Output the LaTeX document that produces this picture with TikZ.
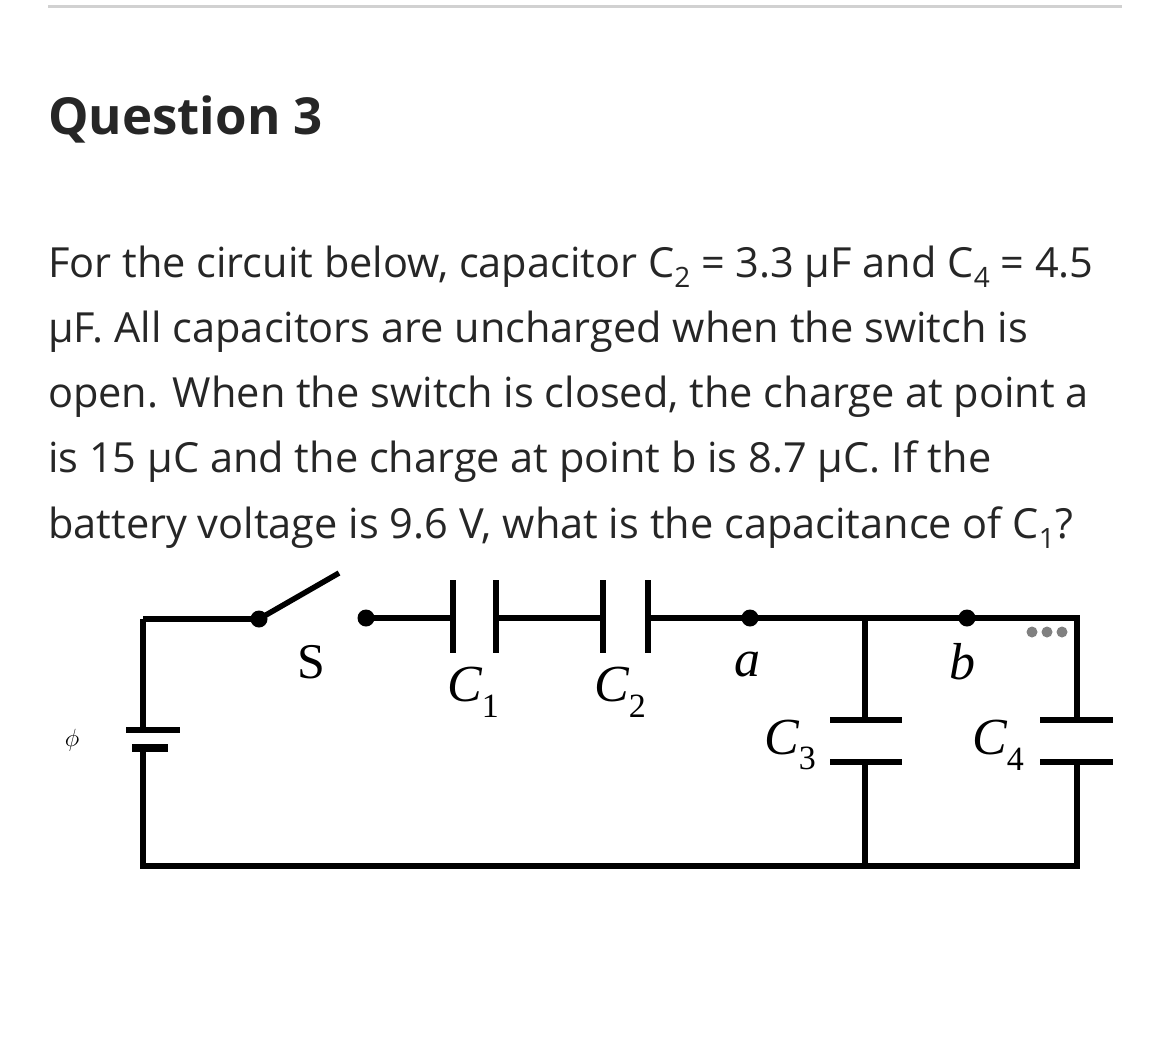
\documentclass[tikz,border=0pt]{standalone}
\usepackage{fontspec}
\setmainfont{Open Sans}
\newfontfamily\ser{Liberation Serif}
\newcommand{\sbs}[1]{\raisebox{-0.25em}{\fontsize{28}{28}\selectfont #1}}
\newcommand{\csub}[1]{\raisebox{-0.3em}{\upshape\fontsize{34}{34}\selectfont #1}}
\begin{document}
\begin{tikzpicture}[x=1pt,y=-1pt,
  txt/.style={anchor=base west,inner sep=0pt,font=\fontsize{41.5}{41.5}\selectfont,text=black!85},
  w/.style={line width=5.5pt},
  pl/.style={line width=5.5pt},
  dot/.style={circle,fill=black,inner sep=0pt,minimum size=17pt},
  lab/.style={font=\ser\itshape\fontsize{52}{52}\selectfont,inner sep=0pt}]
\useasboundingbox (0,0) rectangle (1170,1037);
\draw[line width=3pt,black!18] (48,6) -- (1122,6);
\node[txt,font=\fontsize{51}{51}\selectfont\bfseries] (q) at (48,134) {Question 3};
\node[txt] (l1) at (48,277) {For the circuit below, capacitor C\sbs{2} = 3.3 μF and C\sbs{4} = 4.5};
\node[txt] (l2) at (48,342) {μF. All capacitors are uncharged when the switch is};
\node[txt] (l3) at (48,407) {open. When the switch is closed, the charge at point a};
\node[txt] (l4) at (48,472) {is 15 μC and the charge at point b is 8.7 μC. If the};
\node[txt] (l5) at (48,538) {battery voltage is 9.6 V, what is the capacitance of C\sbs{1}?};
% nodes
\coordinate (tl) at (143,619);
\coordinate (bl) at (143,866);
\coordinate (br) at (1077,866);
\coordinate (tr) at (1077,618);
\node[dot] (s1) at (259,619) {};
\node[dot] (s2) at (366,618) {};
\coordinate (sw) at (339,573);
\node[dot] (a) at (750,618) {};
\node[dot] (b) at (967,618) {};
\coordinate (j3) at (865,618);
\coordinate (j3b) at (865,866);
% battery
\coordinate (bt) at (143,730);
\coordinate (bb) at (143,748);
\draw[w] (tl) -- (s1.center);
\draw[w] (s1.center) -- (sw);
\draw[w] (tl) -- (bt);
\draw[w] (bb) -- (bl) -- (br) -- (tr) -- (s2.center);
\draw[pl] (126,730) -- (180,730);
\draw[line width=8pt] (132,748) -- (168,748);
% C1 C2 gaps
\draw[line width=7pt,white] (456,618) -- (493,618);
\draw[line width=7pt,white] (606,618) -- (645,618);
\draw[pl] (453,580) -- (453,653); \draw[pl] (496,580) -- (496,653);
\draw[pl] (603,580) -- (603,653); \draw[pl] (648,580) -- (648,653);
% C3
\draw[w] (j3) -- (865,720); \draw[w] (865,762) -- (j3b);
\draw[pl] (830,720) -- (902,720); \draw[pl] (830,762) -- (902,762);
% C4 gap
\draw[line width=7pt,white] (1077,723) -- (1077,759);
\draw[pl] (1040,720) -- (1113,720); \draw[pl] (1040,762) -- (1113,762);
\foreach \x in {1032,1047,1062} \fill[gray] (\x,632) circle (5.5);
% labels
\node[lab,font=\ser\fontsize{50}{50}\selectfont] (S) at (311,662) {S};
\node[lab] (L1) at (473,692) {C\csub{1}};
\node[lab] (L2) at (620,692) {C\csub{2}};
\node[lab] (La) at (747,665) {a};
\node[lab] (Lb) at (962,662) {b};
\node[lab] (L3) at (790,745) {C\csub{3}};
\node[lab] (L4) at (998,745) {C\csub{4}};
\node[lab,font=\fontsize{60}{60}\selectfont] (phi) at (72,740) {$\phi$};
\end{tikzpicture}
\end{document}
